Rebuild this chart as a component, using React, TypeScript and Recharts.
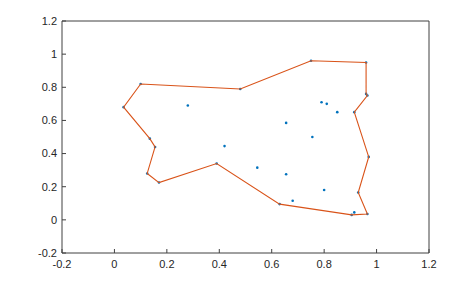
import { ScatterChart, Scatter, XAxis, YAxis } from "recharts";

// point cloud (x, y)
const pointX = [
  0.1, 0.48, 0.75, 0.96, 0.96, 0.965, 0.915, 0.97, 0.93, 0.965, 0.905, 0.63, 0.39, 0.17, 0.125, 0.155, 0.135, 0.035,
  0.28, 0.79, 0.81, 0.85, 0.655, 0.755, 0.42, 0.545, 0.655, 0.68, 0.8, 0.915,
];
const pointY = [
  0.82, 0.79, 0.96, 0.95, 0.76, 0.75, 0.65, 0.38, 0.165, 0.035, 0.03, 0.095, 0.34, 0.225, 0.28, 0.44, 0.49, 0.68,
  0.69, 0.71, 0.7, 0.65, 0.585, 0.5, 0.445, 0.315, 0.275, 0.115, 0.18, 0.045,
];
// boundary order (indices into the point cloud, closed)
const boundaryIdx = [0, 1, 2, 3, 4, 5, 6, 7, 8, 9, 10, 11, 12, 13, 14, 15, 16, 17, 0];

const xTicks = [-0.2, 0, 0.2, 0.4, 0.6, 0.8, 1, 1.2];
const yTicks = [-0.2, 0, 0.2, 0.4, 0.6, 0.8, 1, 1.2];

const points = pointX.map((x, i) => ({ x, y: pointY[i] }));
const boundary = boundaryIdx.map((i) => ({ x: pointX[i], y: pointY[i] }));

const axisColor = "#404040";
const tickStyle = { fontSize: 11, fill: "#262626", fontFamily: "Liberation Sans, Arial, sans-serif" };
const fmt = (v: number) => String(Math.round(v * 10) / 10);

export default function App() {
  return (
    <div style={{ position: "fixed", left: 0, top: 0, width: 474, height: 285, background: "#fff" }}>
      <ScatterChart width={474} height={285} margin={{ top: 0, right: 0, bottom: 0, left: 0 }}>
        <XAxis
          xAxisId={0}
          type="number"
          dataKey="x"
          domain={[-0.2, 1.2]}
          ticks={xTicks}
          tickFormatter={fmt}
          height={32}
          tickSize={-4}
          tickMargin={11}
          stroke={axisColor}
          tick={tickStyle}
          allowDataOverflow
        />
        <XAxis
          xAxisId="top"
          orientation="top"
          type="number"
          domain={[-0.2, 1.2]}
          ticks={xTicks}
          height={21}
          tickSize={-4}
          tick={false}
          stroke={axisColor}
          allowDataOverflow
        />
        <YAxis
          yAxisId={0}
          type="number"
          dataKey="y"
          domain={[-0.2, 1.2]}
          ticks={yTicks}
          tickFormatter={fmt}
          width={62}
          tickSize={-4}
          tickMargin={9}
          stroke={axisColor}
          tick={tickStyle}
          allowDataOverflow
        />
        <YAxis
          yAxisId="right"
          orientation="right"
          type="number"
          domain={[-0.2, 1.2]}
          ticks={yTicks}
          width={45}
          tickSize={-4}
          tick={false}
          stroke={axisColor}
          allowDataOverflow
        />
        <Scatter
          data={points}
          isAnimationActive={false}
          shape={(p: any) => <circle cx={p.cx} cy={p.cy} r={1.3} fill="#0072BD" />}
        />
        <Scatter
          data={boundary}
          isAnimationActive={false}
          line={{ stroke: "#D95319", strokeWidth: 1.1 }}
          lineJointType="linear"
          shape={() => <g />}
        />
      </ScatterChart>
    </div>
  );
}
